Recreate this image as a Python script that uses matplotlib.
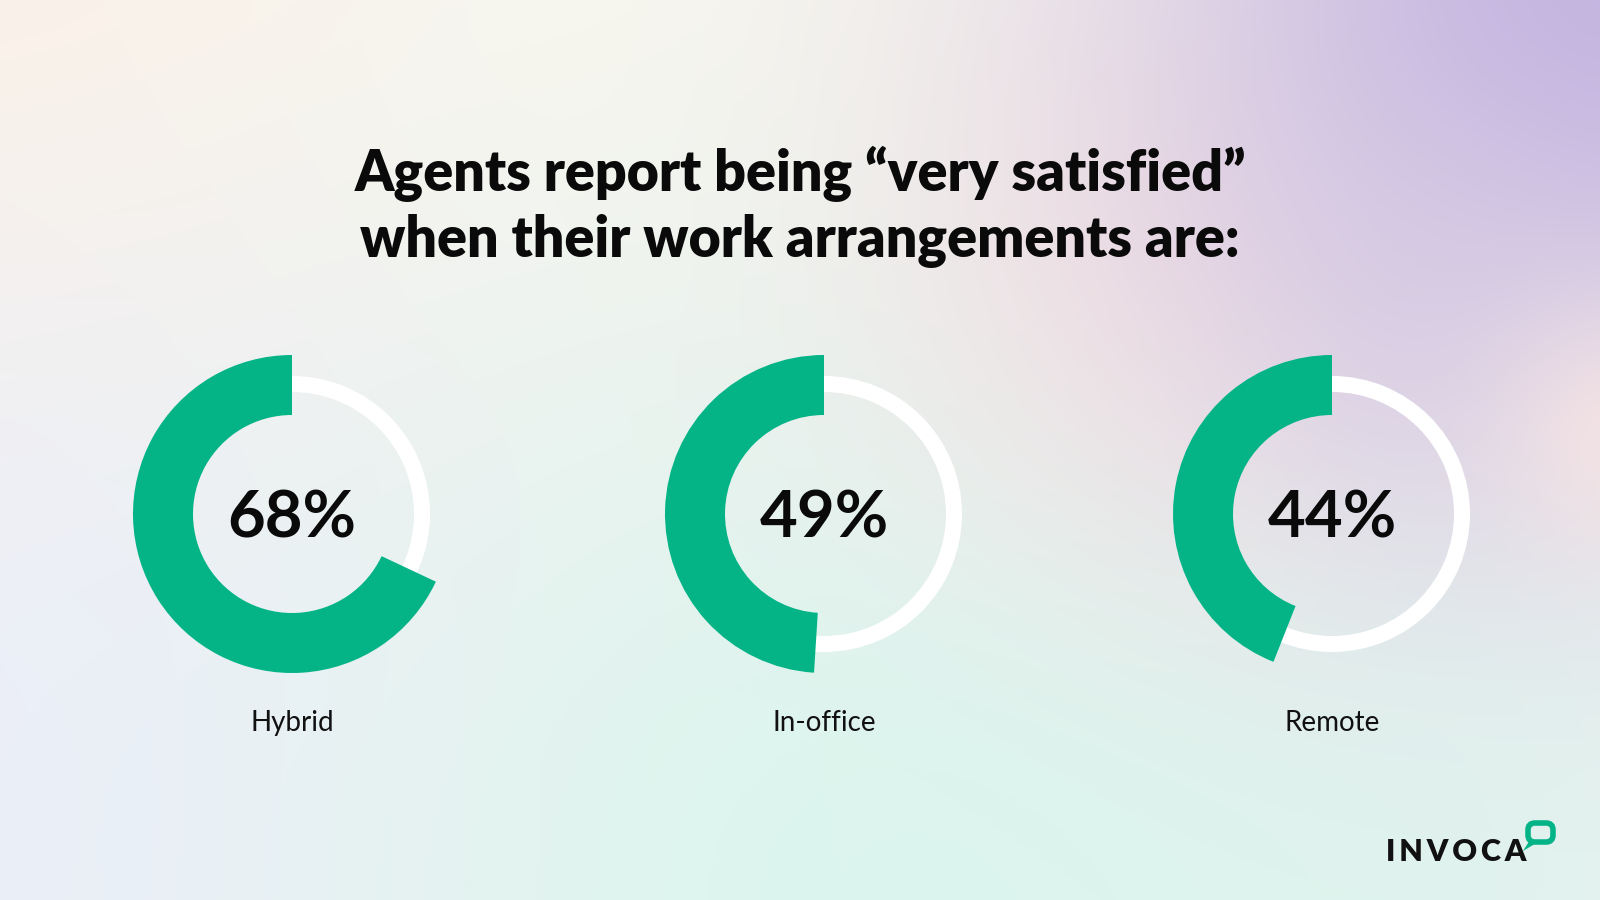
import numpy as np
import matplotlib.pyplot as plt
from matplotlib.patches import Wedge, FancyBboxPatch, Polygon
from matplotlib.colors import to_rgb

# Data
categories = ['Hybrid', 'In-office', 'Remote']
very_satisfied = [68, 49, 44]  # percent of agents
title = 'Agents report being \u201cvery satisfied\u201d\nwhen their work arrangements are:'

GREEN = '#04B487'
W, H = 1600, 900

fig = plt.figure(figsize=(16, 9), dpi=100)

# --- soft gradient background ---
yy, xx = np.mgrid[0:H, 0:W].astype(float)
img = np.ones((H, W, 3)) * np.array(to_rgb('#F3F3F1'))


def blend(img, color, cx, cy, r, strength=1.0):
    d2 = ((xx - cx) ** 2 + (yy - cy) ** 2) / r ** 2
    w = (np.exp(-d2) * strength)[..., None]
    return img * (1 - w) + np.array(to_rgb(color)) * w


img = blend(img, '#FDF2E6', 0, 0, 650)
img = blend(img, '#FCF8EF', 650, 60, 380, 0.8)
img = blend(img, '#EDEEF9', 0, 820, 600)
img = blend(img, '#DBF5EE', 950, 900, 650)
img = blend(img, '#DDF4EE', 1400, 900, 400, 0.6)
img = blend(img, '#F9E6E3', 1200, 250, 330, 0.85)
img = blend(img, '#C4B5E0', 1600, 0, 450)
img = blend(img, '#D6CAE4', 1450, 300, 220, 0.5)
img = blend(img, '#FBE7E3', 1620, 430, 130, 0.7)

bg = fig.add_axes([0, 0, 1, 1])
bg.imshow(img, extent=(0, W, H, 0), aspect='auto')
bg.set_xlim(0, W)
bg.set_ylim(H, 0)
bg.axis('off')

# --- donuts ---
centers_x = [292, 824, 1332]
cy = 514
for cat, pct, cx in zip(categories, very_satisfied, centers_x):
    ring = Wedge((cx, cy), 138, 0, 360, width=16, facecolor='white', edgecolor='none')
    bg.add_patch(ring)
    # screen y is flipped, so angles run the other way
    arc = Wedge((cx, cy), 159, 270 - pct * 3.6, 270, width=60,
                facecolor=GREEN, edgecolor='none')
    bg.add_patch(arc)
    bg.text(cx, cy, f'{pct}%', ha='center', va='center_baseline',
            fontsize=47, family='Lato', fontweight='bold', color='#0A0A0A')
    bg.text(cx, 723, cat, ha='center', va='center',
            fontsize=20, family='Lato', fontweight='normal', color='#111111')

bg.text(800, 207, title, ha='center', va='center', fontsize=40,
        family='Lato', fontweight='heavy', color='#0A0A0A', linespacing=1.27)

# --- logo ---
bg.text(1386, 852, '\u2009'.join('INVOCA'), ha='left', va='center', fontsize=22,
        family='Lato', fontweight='heavy', color='#111111')
bubble = FancyBboxPatch((1531, 826), 19, 13, boxstyle='round,pad=3,rounding_size=7',
                        facecolor='none', edgecolor=GREEN, linewidth=4)
bg.add_patch(bubble)
bg.add_patch(Polygon([[1530, 840], [1538, 842], [1523, 851]], closed=True,
                     facecolor=GREEN, edgecolor='none'))

fig.savefig('out.png', dpi=100)
